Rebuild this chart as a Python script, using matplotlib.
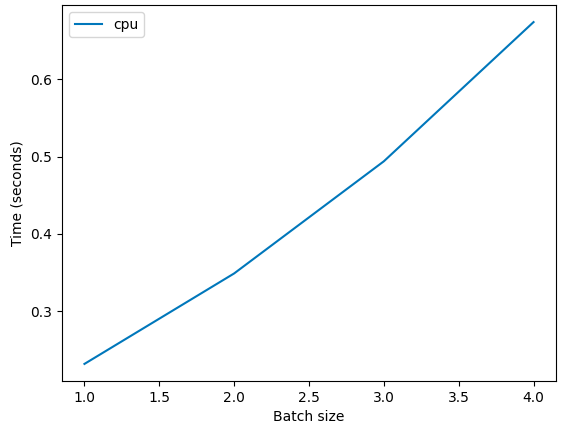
import matplotlib
matplotlib.use("Agg")
import matplotlib.pyplot as plt

batch_sizes = [1, 2, 3, 4]
cpu_times = [0.232, 0.349, 0.494, 0.674]

fig = plt.figure(figsize=(5.67, 4.32), dpi=100)
ax = fig.add_axes([62/567, 51/432, 494/567, 376/432])
ax.plot(batch_sizes, cpu_times, color="#0077bb", label="cpu")
ax.set_xlabel("Batch size")
ax.set_ylabel("Time (seconds)")
ax.legend(loc="upper left")
fig.savefig("out.png", dpi=100)
